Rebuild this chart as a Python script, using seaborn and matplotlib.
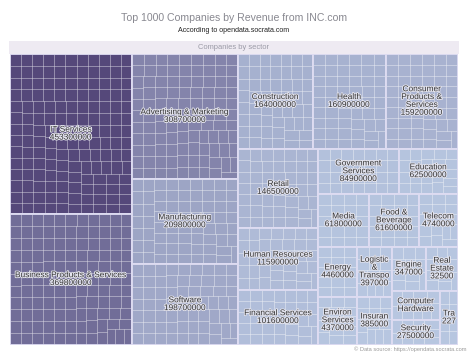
import matplotlib
matplotlib.use('Agg')
import matplotlib.pyplot as plt
import matplotlib.patheffects as pe
from matplotlib.colors import PowerNorm
from matplotlib.patches import Rectangle
import seaborn as sns

# sector data (revenue in USD), in the order the treemap lays them out
sectors = ['IT Services', 'Business Products & Services', 'Advertising & Marketing',
           'Manufacturing', 'Software', 'Construction', 'Health',
           'Consumer Products & Services', 'Retail', 'Human Resources',
           'Financial Services', 'Government Services', 'Education', 'Media',
           'Food & Beverage', 'Telecom', 'Energy', 'Environmental Services',
           'Logistics & Transportation', 'Insurance', 'Engineering', 'Real Estate',
           'Computer Hardware', 'Security', 'Travel & Hospitality']
revenue = [453300000, 369800000, 308700000, 209800000, 198700000, 164000000,
           160900000, 159200000, 146500000, 115900000, 101600000, 84900000,
           62500000, 61800000, 61600000, 47400000, 44600000, 43700000,
           39700000, 38500000, 34700000, 32500000, 33000000, 27500000, 22700000]
# number of company cells inside each sector
company_counts = [150, 122, 102, 69, 66, 54, 53, 53, 48, 38, 34, 28, 21, 20,
                  20, 16, 15, 14, 13, 13, 11, 11, 9, 9, 8]
# labels as they are printed on the chart
labels = ['IT Services\n453300000', 'Business Products & Services\n369800000',
          'Advertising & Marketing\n308700000', 'Manufacturing\n209800000',
          'Software\n198700000', 'Construction\n164000000', 'Health\n160900000',
          'Consumer\nProducts &\nServices\n159200000', 'Retail\n146500000',
          'Human Resources\n115900000', 'Financial Services\n101600000',
          'Government\nServices\n84900000', 'Education\n62500000',
          'Media\n61800000', 'Food &\nBeverage\n61600000', 'Telecom\n4740000',
          'Energy\n4460000', 'Environ\nServices\n4370000',
          'Logistic\n&\nTranspo\n397000', 'Insuran\n385000', 'Engine\n347000',
          'Real\nEstate\n32500', 'Computer\nHardware', 'Security\n27500000',
          'Tra\n227']

W, H = 448, 291


def ratio(a, b):
    return max(a / b, b / a)


def lay_strip(strip, x, y, w, h, vertical, rects):
    s = sum(strip)
    if vertical:
        cw = s / h
        yy = y
        for a in strip:
            rects.append((x, yy, cw, a / cw))
            yy += a / cw
        return x + cw, y, w - cw, h
    rh = s / w
    xx = x
    for a in strip:
        rects.append((xx, y, a / rh, rh))
        xx += a / rh
    return x, y + rh, w, h - rh


def treemap(values, x, y, w, h):
    # squarified layout, strip closes when the last item's aspect ratio gets worse
    total = float(sum(values))
    areas = [v * w * h / total for v in values]
    rects = []
    strip = []
    for a in areas:
        if strip:
            vertical = w >= h
            side = h if vertical else w
            s_old = sum(strip)
            s_new = s_old + a
            last = strip[-1]
            old_r = ratio(s_old / side, last / (s_old / side))
            new_r = ratio(s_new / side, last / (s_new / side))
            if new_r > old_r:
                x, y, w, h = lay_strip(strip, x, y, w, h, vertical, rects)
                strip = []
        strip.append(a)
    if strip:
        lay_strip(strip, x, y, w, h, w >= h, rects)
    return rects


sns.set_theme(style='white')
plt.rcParams['font.family'] = ['Liberation Sans', 'DejaVu Sans']

cmap = sns.blend_palette(['#b7c6e0', '#55487a'], as_cmap=True)
norm = PowerNorm(gamma=1.6, vmin=min(revenue), vmax=max(revenue))

fig = plt.figure(figsize=(4.74, 3.55), dpi=100)
fig.patch.set_facecolor('white')
ax = fig.add_axes([10 / 474, 10 / 355, 448 / 474, 291 / 355])
ax.set_xlim(0, W)
ax.set_ylim(H, 0)
ax.axis('off')

rects = treemap(revenue, 0, 0, W, H)
for (x, y, w, h), val, n, lab in zip(rects, revenue, company_counts, labels):
    col = cmap(norm(val))
    ax.add_patch(Rectangle((x, y), w, h, facecolor=col, edgecolor='none'))
    for (cx, cy, cw, ch) in treemap([1] * n, x, y, w, h):
        ax.add_patch(Rectangle((cx, cy), cw, ch, facecolor='none',
                               edgecolor=(1, 1, 1, 0.3), lw=0.5))
    ax.add_patch(Rectangle((x, y), w, h, facecolor='none',
                           edgecolor='#dedcf2', lw=1.3))
    ax.text(x + w / 2, y + h / 2, lab, ha='center', va='center', fontsize=6.0,
            color='#333333', linespacing=1.17,
            path_effects=[pe.withStroke(linewidth=1.3, foreground='#e4e4ee')])

# header band
fig.patches.append(Rectangle((9 / 474, 1 - 54 / 355), 450 / 474, 13 / 355,
                             transform=fig.transFigure, facecolor='#eeeaf2',
                             edgecolor='none'))
fig.text(234 / 474, 1 - 47.5 / 355, 'Companies by sector', ha='center', va='center',
         fontsize=5.4, color='#9a9aa6')

fig.text(234 / 474, 1 - 18 / 355, 'Top 1000 Companies by Revenue from INC.com',
         ha='center', va='center', fontsize=7.6, color='#888890')
fig.text(234 / 474, 1 - 30 / 355, 'According to opendata.socrata.com',
         ha='center', va='center', fontsize=5.1, color='#222222')
fig.text(467 / 474, 1 - 349 / 355, '\u00a9 Data source: https://opendata.socrata.com',
         ha='right', va='center', fontsize=4.1, color='#999999')

fig.savefig('out.png', dpi=100)
